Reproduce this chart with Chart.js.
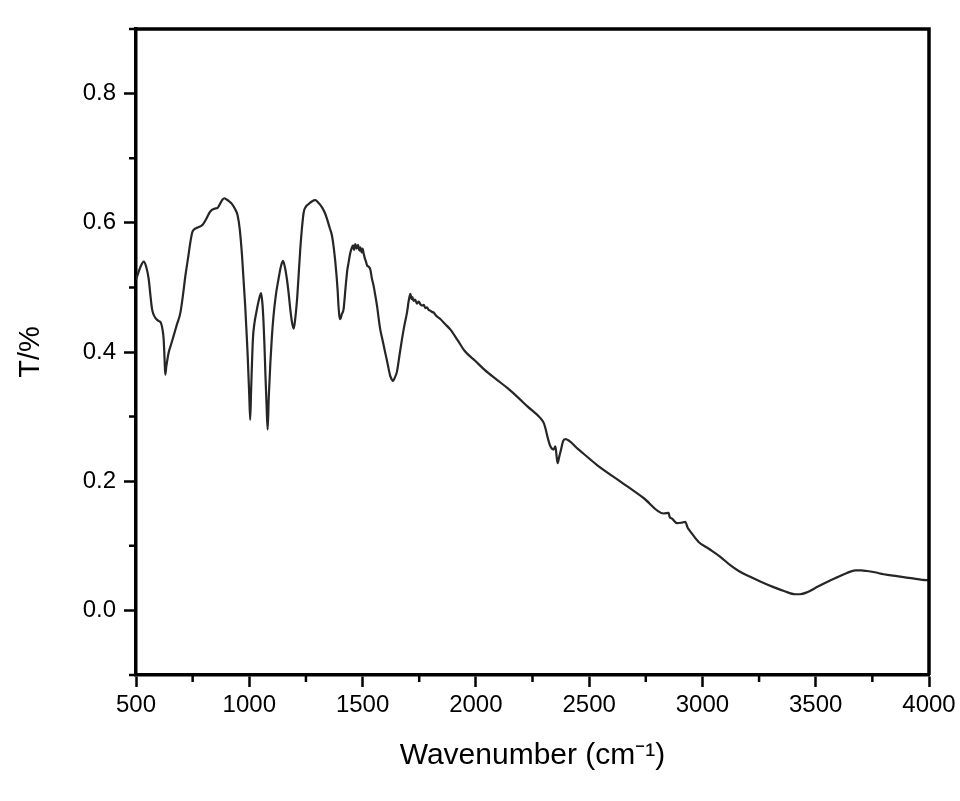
<!DOCTYPE html>
<html>
<head>
<meta charset="utf-8">
<title>FTIR</title>
<script src="https://cdn.jsdelivr.net/npm/chart.js@4.4.1/dist/chart.umd.min.js"></script>
<style>
	html, body { margin: 0; padding: 0; background: #fff; }
	#wrap { width: 960px; height: 801px; }
</style>
</head>
<body>
<div id="wrap"><canvas id="myChart" width="960" height="801"></canvas></div>
<script>
// wavenumber (cm-1) and transmittance
const wavenumbers = [
	500, 520, 534, 545, 556, 563, 571, 585, 600, 610, 617, 622, 626, 629, 634, 644, 655, 666, 680, 696,
	708, 718, 730, 740, 748, 757, 775, 791, 800, 813, 825, 835, 848, 860, 872, 882, 890, 900, 912, 924,
	936, 948, 958, 968, 975, 982, 988, 993, 1000, 1004, 1008, 1016, 1023, 1031, 1042, 1052, 1058, 1063, 1067, 1071,
	1076, 1081, 1086, 1093, 1100, 1107, 1118, 1129, 1140, 1149, 1158, 1166, 1174, 1181, 1189, 1196, 1203, 1211, 1218, 1225,
	1232, 1240, 1250, 1262, 1276, 1291, 1305, 1321, 1333, 1343, 1355, 1365, 1375, 1384, 1390, 1394, 1398, 1402, 1408, 1416,
	1425, 1432, 1438, 1445, 1453, 1458, 1462, 1468, 1474, 1480, 1486, 1490, 1496, 1500, 1505, 1510, 1515, 1520, 1527, 1534,
	1541, 1549, 1556, 1564, 1571, 1578, 1589, 1600, 1611, 1622, 1628, 1634, 1642, 1652, 1663, 1674, 1685, 1696, 1704, 1711,
	1716, 1720, 1725, 1732, 1740, 1748, 1755, 1762, 1770, 1777, 1784, 1792, 1799, 1807, 1814, 1825, 1843, 1865, 1887, 1920,
	1950, 1998, 2040, 2093, 2140, 2182, 2230, 2284, 2300, 2307, 2318, 2329, 2343, 2351, 2356, 2361, 2368, 2376, 2385, 2395,
	2450, 2535, 2640, 2740, 2829, 2851, 2855, 2866, 2888, 2910, 2924, 2935, 2947, 2983, 3030, 3079, 3123, 3160, 3211, 3260,
	3314, 3360, 3410, 3430, 3462, 3500, 3550, 3600, 3638, 3675, 3700, 3726, 3760, 3800, 3859, 3920, 3991, 4000
];
const transmittance = [
	0.512, 0.532, 0.540, 0.532, 0.513, 0.490, 0.466, 0.453, 0.448, 0.445, 0.435, 0.420, 0.390, 0.365, 0.378, 0.399, 0.412, 0.425, 0.442, 0.461,
	0.490, 0.518, 0.546, 0.570, 0.585, 0.590, 0.593, 0.596, 0.600, 0.608, 0.616, 0.620, 0.622, 0.623, 0.630, 0.636, 0.638, 0.636, 0.633, 0.629,
	0.622, 0.612, 0.590, 0.549, 0.510, 0.471, 0.430, 0.394, 0.331, 0.295, 0.340, 0.420, 0.445, 0.461, 0.480, 0.491, 0.475, 0.445, 0.410, 0.367,
	0.320, 0.280, 0.330, 0.383, 0.425, 0.456, 0.490, 0.513, 0.533, 0.541, 0.530, 0.513, 0.490, 0.466, 0.445, 0.436, 0.452, 0.482, 0.520, 0.559,
	0.590, 0.616, 0.625, 0.629, 0.633, 0.635, 0.631, 0.624, 0.616, 0.606, 0.592, 0.580, 0.555, 0.523, 0.495, 0.470, 0.455, 0.451, 0.458, 0.466,
	0.500, 0.525, 0.538, 0.552, 0.562, 0.565, 0.558, 0.567, 0.560, 0.566, 0.557, 0.562, 0.554, 0.560, 0.552, 0.545, 0.540, 0.534, 0.532, 0.528,
	0.514, 0.502, 0.488, 0.471, 0.452, 0.435, 0.417, 0.399, 0.381, 0.363, 0.358, 0.355, 0.360, 0.370, 0.395, 0.420, 0.442, 0.461, 0.480, 0.490,
	0.482, 0.485, 0.479, 0.481, 0.475, 0.478, 0.474, 0.472, 0.473, 0.468, 0.469, 0.465, 0.464, 0.462, 0.461, 0.456, 0.451, 0.443, 0.435, 0.418,
	0.402, 0.386, 0.372, 0.357, 0.344, 0.331, 0.315, 0.298, 0.290, 0.282, 0.266, 0.254, 0.249, 0.254, 0.240, 0.228, 0.238, 0.249, 0.262, 0.265,
	0.250, 0.225, 0.199, 0.174, 0.150, 0.151, 0.145, 0.142, 0.135, 0.136, 0.137, 0.128, 0.122, 0.106, 0.095, 0.083, 0.070, 0.061, 0.052, 0.044,
	0.036, 0.030, 0.025, 0.025, 0.028, 0.035, 0.044, 0.052, 0.058, 0.062, 0.062, 0.061, 0.059, 0.056, 0.053, 0.050, 0.047, 0.047
];

const xTicks = [500, 1000, 1500, 2000, 2500, 3000, 3500, 4000];
const xMinorTicks = [750, 1250, 1750, 2250, 2750, 3250, 3750];
const yTicks = [0.0, 0.2, 0.4, 0.6, 0.8];
const yMinorTicks = [-0.1, 0.1, 0.3, 0.5, 0.7, 0.9];

const FONT = "'Liberation Sans', Arial, Helvetica, sans-serif";
const INK = '#000';

// top/right frame lines and the short minor ticks
const framePlugin = {
	id: 'frame',
	afterDraw(chart) {
		const c = chart.ctx;
		const a = chart.chartArea;
		const sx = chart.scales.x;
		const sy = chart.scales.y;
		c.save();
		c.strokeStyle = INK;
		c.lineWidth = 3.5;
		c.beginPath();
		c.moveTo(a.left - 1.5, a.top);
		c.lineTo(a.right, a.top);
		c.lineTo(a.right, a.bottom);
		c.stroke();
		c.lineWidth = 2.5;
		c.beginPath();
		xMinorTicks.forEach((v) => {
			const px = sx.getPixelForValue(v);
			c.moveTo(px, a.bottom);
			c.lineTo(px, a.bottom + 7);
		});
		yMinorTicks.forEach((v) => {
			const py = sy.getPixelForValue(v);
			c.moveTo(a.left, py);
			c.lineTo(a.left - 7, py);
		});
		c.stroke();
		c.restore();
	}
};

const ctx = document.getElementById('myChart');

let grafico = new Chart(ctx, {
	type: 'line',
	data: {
		datasets: [
			{
				label: 'T/%',
				data: wavenumbers.map((w, i) => ({ x: w, y: transmittance[i] })),
				borderColor: '#262626',
				borderWidth: 2.2,
				pointRadius: 0,
				cubicInterpolationMode: 'monotone',
				fill: false
			}
		]
	},
	options: {
		responsive: false,
		animation: false,
		layout: {
			padding: { left: 0, right: 31, top: 29, bottom: 0 }
		},
		plugins: {
			legend: { display: false },
			tooltip: { enabled: false }
		},
		scales: {
			x: {
				type: 'linear',
				min: 500,
				max: 4000,
				afterBuildTicks: (scale) => {
					scale.ticks = xTicks.map((v) => ({ value: v }));
				},
				afterFit: (scale) => {
					scale.height = 126;
				},
				ticks: {
					color: INK,
					padding: 4,
					maxRotation: 0,
					font: { family: FONT, size: 24 },
					callback: (v) => String(v)
				},
				grid: {
					drawOnChartArea: false,
					tickLength: 12,
					tickWidth: 2.5,
					tickColor: INK
				},
				border: { display: true, color: INK, width: 3.5 },
				title: {
					display: true,
					text: 'Wavenumber (cm\u207B\u00B9)',
					color: INK,
					font: { family: FONT, size: 30 },
					padding: { top: 0, bottom: 27 }
				}
			},
			y: {
				type: 'linear',
				min: -0.1,
				max: 0.9,
				afterBuildTicks: (scale) => {
					scale.ticks = yTicks.map((v) => ({ value: v }));
				},
				afterFit: (scale) => {
					scale.width = 136;
				},
				ticks: {
					color: INK,
					padding: 8,
					font: { family: FONT, size: 24 },
					callback: (v) => Number(v).toFixed(1)
				},
				grid: {
					drawOnChartArea: false,
					tickLength: 12,
					tickWidth: 2.5,
					tickColor: INK
				},
				border: { display: true, color: INK, width: 3.5 },
				title: {
					display: true,
					text: 'T/%',
					color: INK,
					font: { family: FONT, size: 29 },
					padding: { top: 14, bottom: 0 }
				}
			}
		}
	},
	plugins: [framePlugin]
});
</script>
</body>
</html>
